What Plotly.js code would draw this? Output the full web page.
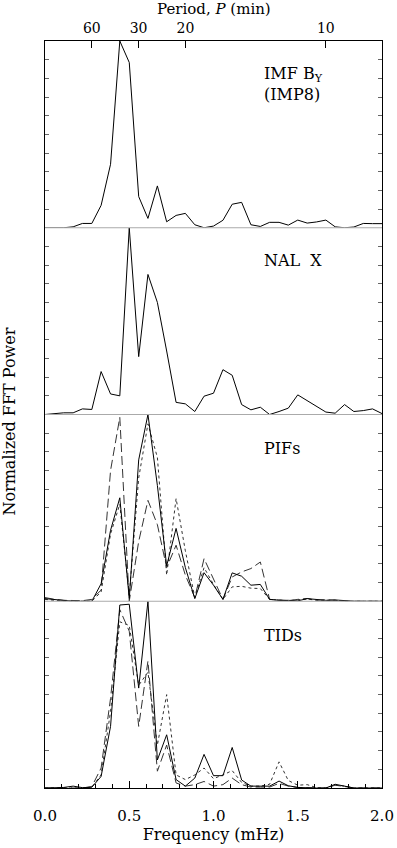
<!DOCTYPE html>
<html>
<head>
<meta charset="utf-8">
<script src="https://cdn.plot.ly/plotly-3.0.1.min.js"></script>
<style>html,body{margin:0;padding:0;background:#fff;}#chart{width:397px;height:848px;}</style>
</head>
<body>
<div id="chart"></div>
<script>
// Frequency bins (mHz)
var freq = [0, 0.056, 0.111, 0.167, 0.222, 0.278, 0.333, 0.389, 0.444, 0.5, 0.556, 0.611, 0.667, 0.722, 0.778, 0.833, 0.889, 0.944, 1.0, 1.056, 1.111, 1.167, 1.222, 1.278, 1.333, 1.389, 1.444, 1.5, 1.556, 1.611, 1.667, 1.722, 1.778, 1.833, 1.889, 1.944, 2.0];

// Panel 1: IMF By (IMP8)
var imfBy = [0, 0, 0, 0.005, 0.023, 0.023, 0.12, 0.34, 1.0, 0.885, 0.167, 0.05, 0.224, 0.032, 0.066, 0.077, 0.016, 0, 0.009, 0.04, 0.126, 0.136, 0.016, 0.007, 0.029, 0.029, 0.014, 0.041, 0.025, 0.031, 0.041, 0.005, 0, 0.004, 0.023, 0.022, 0.022];

// Panel 2: NAL X
var nalX = [0, 0.005, 0.009, 0.009, 0.03, 0.027, 0.23, 0.11, 0.10, 1.0, 0.31, 0.75, 0.60, 0.34, 0.065, 0.057, 0.016, 0.098, 0.114, 0.24, 0.21, 0.053, 0.025, 0.039, 0, 0.016, 0.034, 0.105, 0.075, 0.045, 0.013, 0.007, 0.053, 0.016, 0.021, 0.03, 0.005];

// Panel 3: PIFs (three series)
var pifSolid = [0.014, 0.009, 0.002, 0, 0, 0, 0.094, 0.38, 0.554, 0.014, 0.757, 1.0, 0.62, 0.19, 0.39, 0.18, 0.014, 0.153, 0.086, 0.01, 0.152, 0.134, 0.086, 0.09, 0.01, 0.005, 0.005, 0.002, 0.014, 0.008, 0.005, 0.007, 0.002, 0, 0, 0, 0];
var pifDash = [0.02, 0.01, 0.005, 0.003, 0.003, 0.01, 0.06, 0.70, 0.985, 0.0, 0.32, 0.54, 0.41, 0.18, 0.30, 0.14, 0.02, 0.228, 0.12, 0.01, 0.13, 0.157, 0.175, 0.21, 0.01, 0.005, 0.003, 0.01, 0.015, 0.005, 0.008, 0.005, 0, 0, 0, 0, 0];
var pifDot = [0.01, 0.005, 0, 0, 0, 0, 0.05, 0.36, 0.52, 0.03, 0.66, 0.95, 0.77, 0.14, 0.55, 0.27, 0.02, 0.18, 0.09, 0.01, 0.077, 0.08, 0.07, 0.068, 0.01, 0.005, 0.003, 0.008, 0.012, 0.005, 0.005, 0.005, 0, 0, 0, 0, 0];

// Panel 4: TIDs (three series)
var tidSolid = [0, 0, 0.003, 0.01, 0.002, 0.004, 0.062, 0.33, 0.98, 0.984, 0.535, 1.0, 0.15, 0.285, 0.045, 0.01, 0.053, 0.18, 0.066, 0.066, 0.217, 0.043, 0.01, 0.01, 0.01, 0.037, 0.012, 0.003, 0, 0, 0, 0.02, 0.01, 0, 0, 0, 0];
var tidDash = [0, 0, 0, 0.003, 0, 0.008, 0.107, 0.48, 0.955, 0.84, 0.33, 0.68, 0.09, 0.23, 0.027, 0.01, 0.018, 0.035, 0.01, 0.018, 0.053, 0.018, 0.005, 0.005, 0.005, 0.025, 0.01, 0.003, 0, 0, 0, 0.015, 0.008, 0, 0, 0, 0];
var tidDot = [0, 0, 0, 0, 0, 0.005, 0.07, 0.41, 0.89, 0.87, 0.55, 0.62, 0.23, 0.50, 0.07, 0.045, 0.07, 0.107, 0.05, 0.07, 0.093, 0.03, 0.01, 0.01, 0.02, 0.14, 0.04, 0.015, 0.018, 0.002, 0, 0.015, 0.01, 0, 0, 0, 0];

// Top axis: period ticks (min) at their frequencies (mHz)
var periodTickFreq = [0.2778, 0.5556, 0.8333, 1.6667];
var periodTickText = ['60', '30', '20', '10'];
var freqTickVals = [0, 0.5, 1.0, 1.5, 2.0];

var panelLabels = ['IMF B<sub>Y</sub><br>(IMP8)', 'NAL  X', 'PIFs', 'TIDs'];

var FONT = 'DejaVu Serif, Liberation Serif, serif';
var LW = 1;
var DASH = '9px,4px';

function tr(y, yax, dash, color) {
  return {x: freq, y: y, xaxis: 'x', yaxis: yax, type: 'scatter', mode: 'lines',
    line: {color: color || '#000', width: LW, dash: dash || 'solid'},
    cliponaxis: false, hoverinfo: 'skip', showlegend: false};
}

var data = [
  tr(tidDot, 'y', 'dot', '#333'),
  tr(tidDash, 'y', DASH, '#333'),
  tr(tidSolid, 'y'),
  tr(pifDot, 'y2', 'dot', '#333'),
  tr(pifDash, 'y2', DASH, '#333'),
  tr(pifSolid, 'y2'),
  tr(nalX, 'y3'),
  tr(imfBy, 'y4'),
  {x: [0, 2], y: [null, null], xaxis: 'x2', yaxis: 'y4', type: 'scatter', mode: 'lines', hoverinfo: 'skip', showlegend: false}
];

function yax(domain) {
  return {domain: domain, range: [0, 1], showgrid: false, zeroline: false,
    showline: true, linecolor: '#000', linewidth: 1, mirror: 'ticks',
    ticks: 'inside', ticklen: 4, tickcolor: '#666', tickwidth: 1,
    tickvals: [0.1, 0.2, 0.3, 0.4, 0.5, 0.6, 0.7, 0.8, 0.9], showticklabels: false,
    fixedrange: true};
}

var layout = {
  width: 397, height: 848,
  margin: {l: 45, r: 15, t: 41, b: 60, pad: 0},
  paper_bgcolor: '#fff', plot_bgcolor: '#fff',
  font: {family: FONT, size: 15, color: '#000'},
  showlegend: false,
  xaxis: {domain: [0, 1], range: [0, 2], anchor: 'y', showgrid: false, zeroline: false,
    showline: true, linecolor: '#000', linewidth: 1,
    ticks: 'inside', ticklen: 7, tickcolor: '#000', tickvals: freqTickVals, tickformat: '.1f',
    ticklabelstandoff: 14,
    minor: {dtick: 0.1, tick0: 0, ticks: 'inside', ticklen: 4, tickcolor: '#000'},
    title: {text: 'Frequency (mHz)', font: {family: FONT, size: 16}, standoff: 4},
    fixedrange: true},
  xaxis2: {overlaying: 'x', side: 'top', anchor: 'y4', range: [0, 2], showgrid: false, zeroline: false,
    showline: true, linecolor: '#000', linewidth: 1,
    ticks: 'inside', ticklen: 7, tickcolor: '#000', tickvals: periodTickFreq, ticktext: periodTickText,
    tickfont: {family: FONT, size: 14},
    ticklabelstandoff: 1,
    fixedrange: true},
  yaxis: yax([0, 0.25]),
  yaxis2: yax([0.25, 0.5]),
  yaxis3: yax([0.5, 0.75]),
  yaxis4: yax([0.75, 1]),
  shapes: [0.25, 0.5, 0.75].map(function (v) {
    return {type: 'line', xref: 'paper', yref: 'paper', x0: 0, x1: 1, y0: v, y1: v,
      line: {color: '#aaa', width: 1}};
  }),
  annotations: [
    {text: 'Period, <i>P</i> (min)', xref: 'paper', yref: 'paper', x: 0.5, y: 1.0428,
      xanchor: 'center', yanchor: 'middle', showarrow: false, font: {family: FONT, size: 15}},
    {text: 'Normalized FFT Power', xref: 'paper', yref: 'paper', x: -0.105, y: 0.49,
      xanchor: 'center', yanchor: 'middle', textangle: -90, showarrow: false, font: {family: FONT, size: 16}},
    {text: panelLabels[0], xref: 'paper', yref: 'paper', x: 0.645, y: 0.972, xanchor: 'left', yanchor: 'top', align: 'left', showarrow: false, font: {family: FONT, size: 16}},
    {text: panelLabels[1], xref: 'paper', yref: 'paper', x: 0.645, y: 0.722, xanchor: 'left', yanchor: 'top', showarrow: false, font: {family: FONT, size: 16}},
    {text: panelLabels[2], xref: 'paper', yref: 'paper', x: 0.645, y: 0.47, xanchor: 'left', yanchor: 'top', showarrow: false, font: {family: FONT, size: 16}},
    {text: panelLabels[3], xref: 'paper', yref: 'paper', x: 0.645, y: 0.22, xanchor: 'left', yanchor: 'top', showarrow: false, font: {family: FONT, size: 16}}
  ]
};

Plotly.newPlot('chart', data, layout, {staticPlot: true, displayModeBar: false});
</script>
</body>
</html>
